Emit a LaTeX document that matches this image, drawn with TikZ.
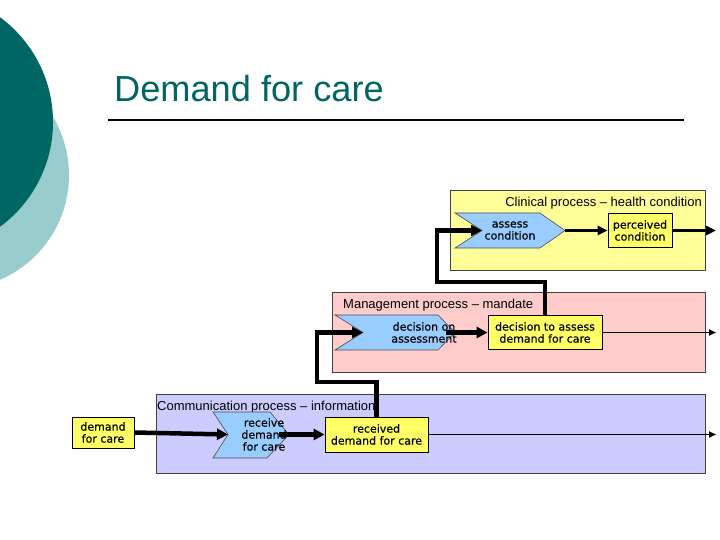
\documentclass[tikz,border=0pt]{standalone}
\usepackage{fontspec}
\setmainfont{Liberation Sans}
\newfontfamily\vfont{DejaVu Sans}[FakeBold=0.5]
\usetikzlibrary{arrows.meta}
\definecolor{tealdark}{RGB}{0,102,99}
\definecolor{teallight}{RGB}{153,204,204}
\definecolor{clinbg}{RGB}{255,255,153}
\definecolor{mgmtbg}{RGB}{255,204,204}
\definecolor{commbg}{RGB}{204,204,255}
\definecolor{ybright}{RGB}{255,255,102}
\definecolor{chevblue}{RGB}{153,204,255}
\tikzset{
  pbox/.style={draw=black!75, line width=0.8pt},
  ptitle/.style={inner sep=0pt, font=\fontsize{13}{15}\selectfont},
  ybox/.style={draw=black, fill=ybright, line width=0.8pt, inner sep=0pt, align=center,
    font=\vfont\fontsize{11}{12}\selectfont},
  chev/.style={draw=black!70, fill=chevblue, line width=0.6pt},
  ctext/.style={inner sep=0pt, align=center, font=\vfont\fontsize{11}{12}\selectfont},
  thickarrow/.style={line width=4.5pt, -{Triangle[length=11pt,width=11pt]}},
  midarrow/.style={line width=3.2pt, -{Triangle[length=10pt,width=9pt]}},
  thinarrow/.style={line width=1.6pt, -{Triangle[length=7pt,width=6pt]}}
}
\begin{document}
\begin{tikzpicture}[x=1pt,y=-1pt]
\useasboundingbox (0,0) rectangle (720,540);
% background circles
\begin{scope}
\clip (0,0) rectangle (720,540);
\fill[teallight] (-45,175) circle (114);
\fill[tealdark] (-77,122) circle (130);
\end{scope}
% title
\node[anchor=base west, inner sep=0pt, text=tealdark, font=\fontsize{36.2}{40}\selectfont] (title) at (114,102) {Demand for care};
\draw[line width=2pt] (108,120) -- (684,120);
% process boxes
\node[pbox, fill=clinbg, minimum width=255pt, minimum height=80pt, inner sep=0pt] (clin) at (577.5,230) {};
\node[pbox, fill=mgmtbg, minimum width=373pt, minimum height=80pt, inner sep=0pt] (mgmt) at (518.5,332) {};
\node[pbox, fill=commbg, minimum width=549pt, minimum height=79pt, inner sep=0pt] (comm) at (430.5,433.5) {};
\node[ptitle, anchor=base east] (clintitle) at (702,207) {Clinical process -- health condition};
\node[ptitle, anchor=base west] (mgmttitle) at (343,308) {Management process -- mandate};
\node[ptitle, anchor=base west] (commtitle) at (157,410) {Communication process -- information};
% chevrons
\draw[chev] (455,213) -- (540,213) -- (565,230.5) -- (540,248) -- (455,248) -- (482,230.5) -- cycle;
\draw[chev] (335,315) -- (438,315) -- (455,332.5) -- (438,350) -- (335,350) -- (363,332.5) -- cycle;
\draw[chev] (213,412) -- (270,412) -- (289,434.5) -- (267,458) -- (213,458) -- (228,434.5) -- cycle;
\node[ctext] (assess) at (510,230.5) {assess\\condition};
\node[ctext] (decision) at (424,332.5) {decision on\\assessment};
\node[ctext] (receive) at (264,434.5) {receive\\demand\\for care};
\coordinate (asnotch) at (482,230.5);
\coordinate (astip) at (565,230.5);
\coordinate (decnotch) at (363,332.5);
\coordinate (decout) at (446,332.5);
\coordinate (rcvnotch) at (228,434.5);
\coordinate (rcvout) at (279,434.5);
% yellow boxes
\node[ybox, minimum width=64pt, minimum height=34pt] (perc) at (640,230.5) {perceived\\condition};
\node[ybox, minimum width=114pt, minimum height=34pt] (dta) at (545,332.5) {decision to assess\\demand for care};
\node[ybox, minimum width=62pt, minimum height=31pt] (dfc) at (103,432.5) {demand\\for care};
\node[ybox, minimum width=103pt, minimum height=35pt] (rec) at (376.5,434.5) {received\\demand for care};
% free ends and bends
\coordinate (o1) at (716,230.5);
\coordinate (o2) at (716,332.5);
\coordinate (o3) at (716,434.5);
\coordinate (c1) at (437,282);
\coordinate (m1) at (317,382);
% connectors
\draw[thickarrow] (dfc.east) -- (rcvnotch);
\draw[thickarrow] (rcvout) -- (rec.west);
\draw[thinarrow] (rec.east) -- (o3);
\draw[thickarrow] (rec.north) |- (m1) |- (decnotch);
\draw[thickarrow] (decout) -- (dta.west);
\draw[thinarrow] (dta.east) -- (o2);
\draw[thickarrow] (dta.north) |- (c1) |- (asnotch);
\draw[midarrow] (astip) -- (perc.west);
\draw[midarrow] (perc.east) -- (o1);
\end{tikzpicture}
\end{document}
